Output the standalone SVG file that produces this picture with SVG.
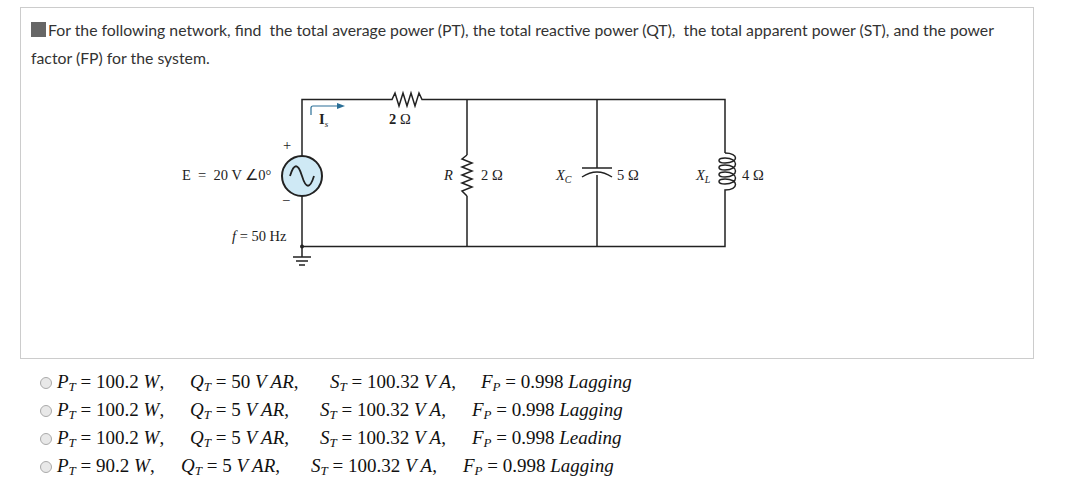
<svg xmlns="http://www.w3.org/2000/svg" width="1077" height="491" viewBox="0 0 1077 491">
<style>
.w{stroke:#222;stroke-width:1.5;fill:none}
.hd{font-family:Lato,"Liberation Sans",sans-serif;font-size:15.8px;fill:#333}
.c{font-family:"Liberation Serif",serif;font-size:14.5px;fill:#222}
.m{font-family:"Liberation Serif",serif;font-size:19px;fill:#111}
.i{font-style:italic}
.s{font-size:13px;font-style:italic}
.rb{fill:#e8e8e8;stroke:#aaa;stroke-width:1}
</style>
<rect width="1077" height="491" fill="#fff"/>
<rect x="20.5" y="7.5" width="1013" height="351" fill="none" stroke="#ccc"/>
<rect x="31" y="22" width="15" height="15" fill="#666"/>
<text class="hd" x="48" y="36" xml:space="preserve">For the following network, find  the total average power (PT), the total reactive power (QT),  the total apparent power (ST), and the power</text>
<text class="hd" x="31" y="64">factor (FP) for the system.</text>
<g id="connectors">
<path class="w" d="M302 156 V99.5 H389 M427 99.5 H725 V153 M725 197 V246.5 H302 V196 M467 99.5 V155 M467 196 V246.5 M597 99.5 V168 M597 175 V246.5"/>
<path class="w" d="M302 246.5 V257 M293 257 H311 M296 261 H308 M299 265 H305"/>
<circle cx="302" cy="246.5" r="2" fill="#222"/>
</g>
<g id="source">
<circle cx="302" cy="176" r="20" fill="#cfe9f5" stroke="#222" stroke-width="2"/>
<path d="M290 176 C294 163 298 163 302 176 C306 189 310 189 314 176" fill="none" stroke="#222" stroke-width="1.8"/>
<text class="c" x="283" y="150" font-size="15">+</text>
<text class="c" x="282" y="205" font-size="15">−</text>
<text class="c" x="182" y="180" xml:space="preserve">E  =  20 V ∠0°</text>
<text class="c" x="232" y="241"><tspan class="i">f</tspan> = 50 Hz</text>
<path d="M311 115 V108 Q311 106 313 106 H340" fill="none" stroke="#2a6f97" stroke-width="1.2"/>
<path d="M345 106 L337 103 L337 109 Z" fill="#2a6f97"/>
<text class="c" x="319" y="124" font-weight="bold">I<tspan font-size="9" font-style="italic" font-weight="normal" dy="3">s</tspan></text>
</g>
<g id="r-series">
<path class="w" d="M389 99.5 L392 99.5 L395 93 L399 106 L403 93 L407 106 L411 93 L415 106 L419 93 L422 99.5 L427 99.5"/>
<text class="c" x="389" y="124" font-weight="bold">2 <tspan font-weight="normal">Ω</tspan></text>
</g>
<g id="r">
<path class="w" d="M467 155 L462 159 L472 163 L462 167 L472 171 L462 175 L472 179 L462 183 L472 187 L462 191 L467 196"/>
<text class="c i" x="444" y="180">R</text>
<text class="c" x="481" y="180">2 Ω</text>
</g>
<g id="xc">
<path class="w" d="M582 168 H612"/>
<path class="w" d="M582 177 Q597 167 612 177"/>
<text class="c i" x="556" y="180">X<tspan font-size="10" dy="3">C</tspan></text>
<text class="c" x="617" y="180">5 Ω</text>
</g>
<g id="xl">
<path class="w" d="M725 153 C739 153 739 163 725 163 C717 163 717 158 725 158 C739 158 739 170 725 170 C717 170 717 165 725 165 C739 165 739 177 725 177 C717 177 717 172 725 172 C739 172 739 184 725 184 C717 184 717 179 725 179 C739 179 739 190 725 190 V197"/>
<text class="c i" x="696" y="180">X<tspan font-size="10" dy="3">L</tspan></text>
<text class="c" x="742" y="180">4 Ω</text>
</g>
<g id="options">
<circle class="rb" cx="46" cy="383" r="5.5"/>
<circle class="rb" cx="46" cy="411" r="5.5"/>
<circle class="rb" cx="46" cy="439" r="5.5"/>
<circle class="rb" cx="46" cy="467" r="5.5"/>
<text class="m" y="388"><tspan x="57" class="i">P</tspan><tspan class="s" dy="3">T</tspan><tspan dy="-3"> = 100.2 </tspan><tspan class="i">W</tspan>,<tspan x="190" class="i">Q</tspan><tspan class="s" dy="3">T</tspan><tspan dy="-3"> = 50 </tspan><tspan class="i">V AR</tspan>,<tspan x="330" class="i">S</tspan><tspan class="s" dy="3">T</tspan><tspan dy="-3"> = 100.32 </tspan><tspan class="i">V A</tspan>,<tspan x="481" class="i">F</tspan><tspan class="s" dy="3">P</tspan><tspan dy="-3"> = 0.998 </tspan><tspan class="i">Lagging</tspan></text>
<text class="m" y="416"><tspan x="57" class="i">P</tspan><tspan class="s" dy="3">T</tspan><tspan dy="-3"> = 100.2 </tspan><tspan class="i">W</tspan>,<tspan x="190" class="i">Q</tspan><tspan class="s" dy="3">T</tspan><tspan dy="-3"> = 5 </tspan><tspan class="i">V AR</tspan>,<tspan x="320" class="i">S</tspan><tspan class="s" dy="3">T</tspan><tspan dy="-3"> = 100.32 </tspan><tspan class="i">V A</tspan>,<tspan x="472" class="i">F</tspan><tspan class="s" dy="3">P</tspan><tspan dy="-3"> = 0.998 </tspan><tspan class="i">Lagging</tspan></text>
<text class="m" y="444"><tspan x="57" class="i">P</tspan><tspan class="s" dy="3">T</tspan><tspan dy="-3"> = 100.2 </tspan><tspan class="i">W</tspan>,<tspan x="190" class="i">Q</tspan><tspan class="s" dy="3">T</tspan><tspan dy="-3"> = 5 </tspan><tspan class="i">V AR</tspan>,<tspan x="320" class="i">S</tspan><tspan class="s" dy="3">T</tspan><tspan dy="-3"> = 100.32 </tspan><tspan class="i">V A</tspan>,<tspan x="472" class="i">F</tspan><tspan class="s" dy="3">P</tspan><tspan dy="-3"> = 0.998 </tspan><tspan class="i">Leading</tspan></text>
<text class="m" y="472"><tspan x="57" class="i">P</tspan><tspan class="s" dy="3">T</tspan><tspan dy="-3"> = 90.2 </tspan><tspan class="i">W</tspan>,<tspan x="181" class="i">Q</tspan><tspan class="s" dy="3">T</tspan><tspan dy="-3"> = 5 </tspan><tspan class="i">V AR</tspan>,<tspan x="311" class="i">S</tspan><tspan class="s" dy="3">T</tspan><tspan dy="-3"> = 100.32 </tspan><tspan class="i">V A</tspan>,<tspan x="463" class="i">F</tspan><tspan class="s" dy="3">P</tspan><tspan dy="-3"> = 0.998 </tspan><tspan class="i">Lagging</tspan></text>
</g>
</svg>
